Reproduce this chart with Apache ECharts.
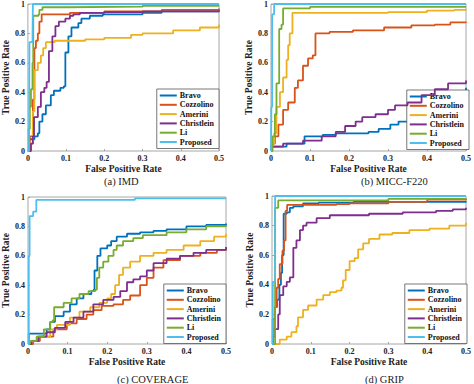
<!DOCTYPE html>
<html><head><meta charset="utf-8">
<script src="https://cdn.jsdelivr.net/npm/echarts@6/dist/echarts.min.js"></script>
<style>html,body{margin:0;padding:0;background:#fff}#c{width:474px;height:384px}</style>
</head><body><div id="c"></div>
<script>
const seriesNames = ['Bravo','Cozzolino','Amerini','Christlein','Li','Proposed'];
const seriesColors = ['#0072BD','#D95319','#EDB120','#7E2F8E','#77AC30','#4DBEEE'];
const xTicks = [0,0.1,0.2,0.3,0.4,0.5];
const yTicks = [0,0.2,0.4,0.6,0.8,1];
const captions = ['(a) IMD','(b) MICC-F220','(c) COVERAGE','(d) GRIP'];
const xAxisTitle = 'False Positive Rate';
const yAxisTitle = 'True Positive Rate';

// (a) IMD
const imdBravo = [[0,0],[0.003,0.08],[0.017,0.1],[0.026,0.12],[0.03,0.2],[0.038,0.25],[0.047,0.31],[0.06,0.38],[0.068,0.41],[0.085,0.43],[0.094,0.44],[0.098,0.67],[0.106,0.78],[0.114,0.84],[0.132,0.87],[0.14,0.9],[0.162,0.92],[0.196,0.93],[0.3,0.94],[0.35,0.95],[0.5,0.957]];
const imdCozzolino = [[0,0],[0.005,0.1],[0.013,0.35],[0.017,0.7],[0.021,0.75],[0.026,0.8],[0.03,0.88],[0.036,0.93],[0.11,0.94],[0.2,0.95],[0.35,0.96],[0.5,0.97]];
const imdAmerini = [[0,0],[0.008,0.05],[0.013,0.27],[0.017,0.55],[0.026,0.6],[0.034,0.65],[0.04,0.7],[0.047,0.74],[0.07,0.75],[0.15,0.76],[0.2,0.77],[0.27,0.79],[0.3,0.8],[0.38,0.82],[0.45,0.84],[0.5,0.86]];
const imdChristlein = [[0,0],[0.008,0.05],[0.013,0.1],[0.016,0.23],[0.026,0.3],[0.034,0.4],[0.043,0.43],[0.049,0.47],[0.055,0.68],[0.064,0.78],[0.072,0.85],[0.081,0.88],[0.098,0.9],[0.11,0.92],[0.119,0.93],[0.136,0.94],[0.2,0.945],[0.3,0.95],[0.5,0.955]];
const imdLi = [[0,0],[0.002,0.15],[0.005,0.3],[0.008,0.42],[0.012,0.6],[0.014,0.92],[0.028,0.93],[0.03,0.96],[0.038,0.978],[0.1,0.982],[0.3,0.988],[0.5,0.99]];
const imdProposed = [[0,0],[0.003,0.1],[0.004,0.74],[0.012,0.74],[0.013,1],[0.5,1]];

// (b) MICC-F220
const micBravo = [[0,0],[0.002,0.03],[0.04,0.05],[0.086,0.1],[0.133,0.11],[0.166,0.12],[0.25,0.13],[0.276,0.15],[0.306,0.18],[0.327,0.2],[0.36,0.22],[0.42,0.23],[0.487,0.4],[0.5,0.43]];
const micCozzolino = [[0,0],[0.002,0.05],[0.01,0.1],[0.019,0.18],[0.031,0.28],[0.044,0.33],[0.061,0.43],[0.069,0.48],[0.082,0.58],[0.095,0.63],[0.107,0.65],[0.114,0.8],[0.15,0.81],[0.21,0.82],[0.29,0.84],[0.36,0.855],[0.42,0.86],[0.46,0.875],[0.5,0.88]];
const micAmerini = [[0,0],[0.002,0.05],[0.008,0.12],[0.014,0.3],[0.023,0.4],[0.031,0.5],[0.04,0.62],[0.044,0.72],[0.048,0.8],[0.055,0.94],[0.3,0.945],[0.4,0.955],[0.47,0.96],[0.5,0.965]];
const micChristlein = [[0,0.03],[0.031,0.05],[0.082,0.07],[0.13,0.1],[0.166,0.13],[0.19,0.17],[0.217,0.2],[0.234,0.23],[0.268,0.25],[0.3,0.28],[0.318,0.31],[0.35,0.33],[0.386,0.38],[0.42,0.42],[0.454,0.46],[0.5,0.48]];
const micLi = [[0,0],[0.004,0.1],[0.01,0.25],[0.014,0.46],[0.021,0.83],[0.027,0.86],[0.031,0.97],[0.1,0.98],[0.5,0.98]];
const micProposed = [[0,0],[0.001,0.3],[0.003,0.93],[0.008,1],[0.5,1]];

// (c) COVERAGE
const covBravo = [[0,0],[0.002,0.07],[0.04,0.07],[0.047,0.1],[0.056,0.15],[0.068,0.19],[0.09,0.22],[0.106,0.27],[0.123,0.31],[0.14,0.34],[0.16,0.36],[0.166,0.37],[0.168,0.5],[0.175,0.6],[0.183,0.65],[0.2,0.67],[0.21,0.7],[0.224,0.73],[0.25,0.75],[0.283,0.76],[0.317,0.77],[0.35,0.78],[0.4,0.8],[0.45,0.81],[0.5,0.82]];
const covCozzolino = [[0,0],[0.013,0.02],[0.03,0.05],[0.064,0.1],[0.098,0.14],[0.123,0.17],[0.148,0.2],[0.165,0.23],[0.186,0.26],[0.216,0.27],[0.24,0.3],[0.258,0.33],[0.283,0.4],[0.3,0.45],[0.317,0.52],[0.342,0.57],[0.384,0.6],[0.435,0.62],[0.477,0.64],[0.5,0.65]];
const covAmerini = [[0,0],[0.009,0.02],[0.022,0.05],[0.056,0.1],[0.073,0.13],[0.106,0.18],[0.13,0.22],[0.157,0.25],[0.18,0.28],[0.2,0.31],[0.21,0.34],[0.22,0.4],[0.23,0.47],[0.24,0.52],[0.258,0.56],[0.283,0.6],[0.317,0.62],[0.35,0.64],[0.393,0.67],[0.435,0.7],[0.47,0.73],[0.5,0.75]];
const covChristlein = [[0,0],[0.009,0.02],[0.026,0.05],[0.047,0.08],[0.068,0.11],[0.094,0.15],[0.115,0.18],[0.14,0.22],[0.165,0.27],[0.19,0.3],[0.216,0.32],[0.233,0.36],[0.25,0.42],[0.266,0.44],[0.283,0.46],[0.3,0.5],[0.317,0.55],[0.35,0.58],[0.384,0.6],[0.418,0.62],[0.45,0.64],[0.5,0.66]];
const covLi = [[0,0],[0.005,0.02],[0.022,0.05],[0.04,0.1],[0.056,0.15],[0.062,0.16],[0.066,0.25],[0.09,0.28],[0.11,0.31],[0.13,0.34],[0.153,0.36],[0.17,0.37],[0.174,0.45],[0.18,0.52],[0.19,0.56],[0.203,0.6],[0.216,0.64],[0.224,0.67],[0.24,0.7],[0.266,0.72],[0.29,0.74],[0.35,0.76],[0.4,0.78],[0.45,0.8],[0.5,0.81]];
const covProposed = [[0,0],[0.002,0.6],[0.004,0.87],[0.013,0.9],[0.021,0.98],[0.27,0.99],[0.5,0.99]];

// (d) GRIP
const gripBravo = [[0,0],[0.002,0.17],[0.008,0.25],[0.013,0.3],[0.019,0.4],[0.023,0.48],[0.026,0.6],[0.03,0.88],[0.038,0.89],[0.046,0.92],[0.055,0.93],[0.08,0.95],[0.12,0.955],[0.21,0.96],[0.5,0.965]];
const gripCozzolino = [[0,0],[0.003,0.1],[0.008,0.25],[0.012,0.38],[0.016,0.44],[0.02,0.54],[0.027,0.63],[0.031,0.7],[0.035,0.9],[0.039,0.94],[0.166,0.945],[0.2,0.95],[0.3,0.96],[0.4,0.975],[0.5,0.98]];
const gripAmerini = [[0,0],[0.02,0.03],[0.038,0.05],[0.05,0.08],[0.063,0.12],[0.067,0.18],[0.08,0.23],[0.093,0.26],[0.115,0.3],[0.132,0.33],[0.149,0.35],[0.166,0.36],[0.179,0.38],[0.183,0.43],[0.19,0.5],[0.2,0.56],[0.213,0.58],[0.222,0.64],[0.235,0.68],[0.25,0.71],[0.277,0.74],[0.31,0.75],[0.354,0.77],[0.406,0.78],[0.457,0.8],[0.5,0.82]];
const gripChristlein = [[0,0],[0.003,0.05],[0.008,0.1],[0.016,0.2],[0.02,0.33],[0.029,0.39],[0.038,0.42],[0.046,0.45],[0.055,0.65],[0.063,0.7],[0.072,0.77],[0.08,0.8],[0.089,0.82],[0.115,0.85],[0.149,0.87],[0.25,0.88],[0.337,0.89],[0.423,0.9],[0.466,0.91],[0.5,0.92]];
const gripLi = [[0,0],[0.008,0.92],[0.016,0.97],[0.3,0.98],[0.5,0.985]];
const gripProposed = [[0,0],[0.002,0.42],[0.008,1],[0.5,1]];

const panelData = [
  [imdBravo, imdCozzolino, imdAmerini, imdChristlein, imdLi, imdProposed],
  [micBravo, micCozzolino, micAmerini, micChristlein, micLi, micProposed],
  [covBravo, covCozzolino, covAmerini, covChristlein, covLi, covProposed],
  [gripBravo, gripCozzolino, gripAmerini, gripChristlein, gripLi, gripProposed]
];

// layout
const grids = [
  {left: 23, top: 3, width: 196, height: 148},
  {left: 271, top: 4, width: 198, height: 147},
  {left: 28, top: 197, width: 198, height: 147},
  {left: 272, top: 196, width: 195, height: 148}
];
const legendPos = [
  {right: 255, top: 89},
  {right: 5, top: 90},
  {right: 248, top: 284},
  {right: 7, top: 284}
];
const captionPos = [[104, 176], [361, 176], [117, 374], [365, 374]];

const FONT = 'Liberation Serif, Times New Roman, serif';
const frame = '#a6a6a6';

const option = {
  animation: false,
  backgroundColor: '#fff',
  grid: grids.map(g => Object.assign({show: true, borderColor: frame, borderWidth: 1, backgroundColor: 'transparent'}, g)),
  xAxis: grids.map((g, i) => ({
    type: 'value', gridIndex: i, min: 0, max: 0.5, interval: 0.1,
    name: xAxisTitle, nameLocation: 'middle', nameGap: 13,
    nameTextStyle: {fontFamily: FONT, fontWeight: 'bold', fontSize: 9.5, color: '#222'},
    axisLine: {show: false},
    axisTick: {show: true, inside: true, length: 2, lineStyle: {color: frame}},
    splitLine: {show: false},
    axisLabel: {fontFamily: FONT, fontWeight: 'bold', fontSize: 8, color: '#222', margin: 3,
      formatter: v => String(xTicks.find(t => Math.abs(t - v) < 1e-9) ?? v)}
  })),
  yAxis: grids.map((g, i) => ({
    type: 'value', gridIndex: i, min: 0, max: 1, interval: 0.2,
    name: yAxisTitle, nameLocation: 'middle', nameGap: 15, nameRotate: 90,
    nameTextStyle: {fontFamily: FONT, fontWeight: 'bold', fontSize: 9.5, color: '#222'},
    axisLine: {show: false},
    axisTick: {show: true, inside: true, length: 2, lineStyle: {color: frame}},
    splitLine: {show: false},
    axisLabel: {fontFamily: FONT, fontWeight: 'bold', fontSize: 8, color: '#222', margin: 3,
      formatter: v => String(yTicks.find(t => Math.abs(t - v) < 1e-9) ?? v)}
  })),
  legend: legendPos.map(p => Object.assign({
    data: seriesNames, orient: 'vertical', icon: 'rect', itemWidth: 17, itemHeight: 2,
    itemGap: 0.3, padding: [2, 5, 2, 3], backgroundColor: '#fff', borderColor: '#555', borderWidth: 0.8,
    selectedMode: false,
    textStyle: {fontFamily: FONT, fontWeight: 'bold', fontSize: 8, color: '#111', lineHeight: 9, padding: [0, 0, 0, -2]}
  }, p)),
  graphic: captions.map((c, i) => ({
    type: 'text', left: captionPos[i][0], top: captionPos[i][1],
    style: {text: c, fontFamily: FONT, fontSize: 10.5, fill: '#222', textAlign: 'center'}
  })),
  series: []
};

panelData.forEach((set, gi) => {
  set.forEach((d, si) => {
    option.series.push({
      type: 'line', name: seriesNames[si], xAxisIndex: gi, yAxisIndex: gi,
      data: d, step: 'end', showSymbol: false, symbol: 'none',
      lineStyle: {color: seriesColors[si], width: 1.8}, itemStyle: {color: seriesColors[si]},
      clip: true, z: 2 + si
    });
  });
});

const chart = echarts.init(document.getElementById('c'), null, {renderer: 'svg'});
chart.setOption(option);
</script></body></html>
